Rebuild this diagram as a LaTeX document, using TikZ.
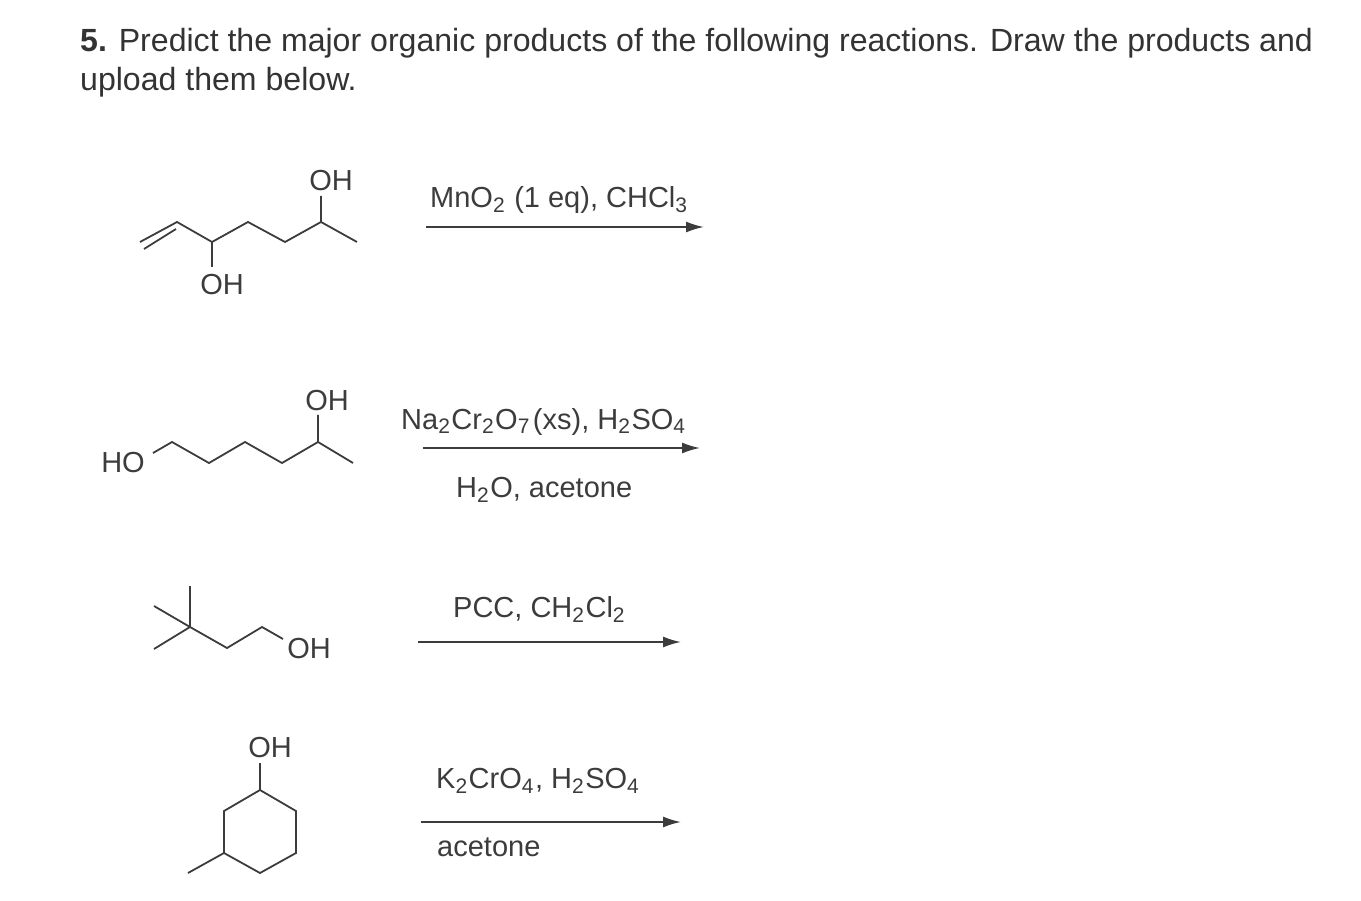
\documentclass[tikz,border=0pt]{standalone}
\usepackage{fontspec}
\setmainfont{Liberation Sans}
\usetikzlibrary{arrows.meta}
\definecolor{inktext}{HTML}{333333}
\definecolor{inkbond}{HTML}{3C3C3C}
\newcommand{\low}[1]{\raisebox{-5pt}{\fontsize{21}{21}\selectfont #1}\kern1.5pt\relax}
\tikzset{
  bond/.style={draw=inkbond, line width=1.8pt, line join=miter},
  reaction/.style={draw=inkbond, line width=1.8pt, -{Latex[length=18pt,width=11pt]}, shorten >=-1pt},
  atomlabel/.style={font=\fontsize{29}{32}\selectfont, text=inkbond, inner sep=0pt},
  reagent/.style={font=\fontsize{29}{32}\selectfont, text=inkbond, inner sep=0pt, anchor=base west},
  question/.style={font=\fontsize{32.08}{38}\selectfont, text=inktext, inner sep=0pt, anchor=base west}
}
\begin{document}
\begin{tikzpicture}[x=1pt, y=-1pt]
      \useasboundingbox (0,0) rectangle (1361,901);

      \node [question] (line1) at (80,52) {\textbf{5.} Predict the major organic products of the following reactions. Draw the products and};
      \node [question] (line2) at (80,91) {upload them below.};

      % first alcohol
      \foreach \n/\x/\y in {1/140/242, 2/177/222, 3/212/242, 4/248/222, 5/285/242, 6/321/222, 7/357/242, 8/144/249, 9/176/229, 10/321/196, 11/212/267}
      {
        \path (\x,\y) coordinate (a\n);
      }
      \node [atomlabel] (aoh1) at (331,181) {OH};
      \node [atomlabel] (aoh2) at (222,285) {OH};
      \draw [bond]
        (a1) -- (a2) -- (a3) -- (a4) -- (a5) -- (a6) -- (a7)
        (a8) -- (a9)
        (a6) -- (a10)
        (a3) -- (a11);

      % second alcohol
      \foreach \n/\x/\y in {1/153/453, 2/172/442, 3/209/463, 4/245/442, 5/282/463, 6/318/442, 7/353/463, 8/318/415}
      {
        \path (\x,\y) coordinate (b\n);
      }
      \node [atomlabel] (boh1) at (123,463) {HO};
      \node [atomlabel] (boh2) at (327,401) {OH};
      \draw [bond]
        (b1) -- (b2) -- (b3) -- (b4) -- (b5) -- (b6) -- (b7)
        (b6) -- (b8);

      % third alcohol
      \foreach \n/\x/\y in {1/190/627, 2/190/586, 3/154/606, 4/154/649, 5/227/648, 6/262/627, 7/283/639}
      {
        \path (\x,\y) coordinate (c\n);
      }
      \node [atomlabel] (coh) at (309,649) {OH};
      \draw [bond]
        (c1) -- (c2)
        (c1) -- (c3)
        (c1) -- (c4)
        (c1) -- (c5) -- (c6) -- (c7);

      % ring
      \foreach \n/\x/\y in {1/260/790, 2/296/811, 3/296/853, 4/260/873, 5/224/853, 6/224/811, 7/188/873, 8/260/763}
      {
        \path (\x,\y) coordinate (d\n);
      }
      \node [atomlabel] (doh) at (270,748) {OH};
      \draw [bond]
        (d1) -- (d2) -- (d3) -- (d4) -- (d5) -- (d6) -- cycle
        (d5) -- (d7)
        (d1) -- (d8);

      % reactions
      \foreach \i/\xa/\xb/\y in {1/426/703/227, 2/423/699/448, 3/418/680/642, 4/421/680/822}
      {
        \path (\xa,\y) coordinate (s\i);
        \path (\xb,\y) coordinate (e\i);
        \draw [reaction] (s\i) -- (e\i);
      }

      \node [reagent] (r1) at (430,208) {MnO\low{2} (1 eq), CHCl\low{3}};
      \node [reagent] (r2) at (401,429) {Na\low{2}Cr\low{2}O\low{7}\kern2pt(xs), H\low{2}SO\low{4}};
      \node [reagent] (r2b) at (456,497) {H\low{2}O, acetone};
      \node [reagent] (r3) at (453,617) {PCC, CH\low{2}Cl\low{2}};
      \node [reagent] (r4) at (436,788) {K\low{2}CrO\low{4}, H\low{2}SO\low{4}};
      \node [reagent] (r4b) at (437,856) {acetone};
    \end{tikzpicture}
\end{document}
